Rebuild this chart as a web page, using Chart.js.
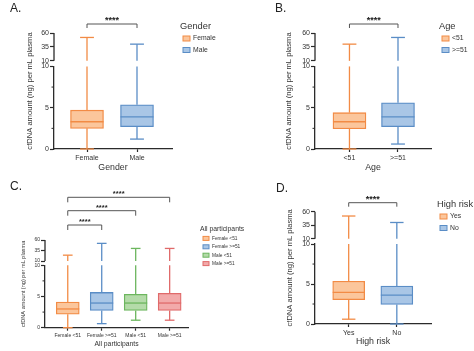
<!DOCTYPE html>
<html>
<head>
<meta charset="utf-8">
<script src="https://cdn.jsdelivr.net/npm/chart.js@4.4.0/dist/chart.umd.min.js"></script>
<style>
  html, body { margin: 0; padding: 0; background: #fff; }
  body { width: 474px; height: 351px; position: relative; overflow: hidden; }
  canvas { position: absolute; }
</style>
</head>
<body>
<canvas id="cA" style="left:0;top:0"></canvas>
<canvas id="cB" style="left:237px;top:0"></canvas>
<canvas id="cC" style="left:0;top:175px"></canvas>
<canvas id="cD" style="left:237px;top:175px"></canvas>
<script>
// --- values (cfDNA ng per mL plasma) ---
const genderLabels = ['Female', 'Male'];
const genderMin = [0, 1.2];
const genderQ1 = [2.5, 2.7];
const genderMedian = [3.3, 3.9];
const genderQ3 = [4.7, 5.35];
const genderMax = [52, 40];

const ageLabels = ['<51', '>=51'];
const ageMin = [0, 0.6];
const ageQ1 = [2.45, 2.7];
const ageMedian = [3.3, 3.9];
const ageQ3 = [4.4, 5.6];
const ageMax = [40, 52];

const groupLabels = ['Female <51', 'Female >=51', 'Male <51', 'Male >=51'];
const groupMin = [0, 0.65, 1.2, 1.2];
const groupQ1 = [2.15, 2.75, 2.75, 2.75];
const groupMedian = [3.0, 3.95, 3.95, 3.95];
const groupQ3 = [4.1, 5.65, 5.35, 5.5];
const groupMax = [24, 52, 40, 40];

const riskLabels = ['Yes', 'No'];
const riskMin = [0.6, 0];
const riskQ1 = [3.05, 2.45];
const riskMedian = [3.95, 3.6];
const riskQ3 = [5.35, 4.75];
const riskMax = [52, 40];

const yLowTicks = [0, 5, 10];
const yLowMinor = [2.5, 7.5];
const yHighTicks = [10, 35, 60];

// --- styling ---
const FONT = '"Liberation Sans", Arial, sans-serif';
const AXIS = '#2b2b2b';
const TEXT = '#333';
const ORANGE = '#F28B45', ORANGE_FILL = '#FBC69C';
const BLUE = '#5A8DC6', BLUE_FILL = '#A9C6E6';
const GREEN = '#6CB65E', GREEN_FILL = '#B4DBA9';
const RED = '#E06A6A', RED_FILL = '#F2AAAA';

const panels = [
  {
    id: 'cA', w: 237, h: 175, letter: 'A.', letterX: 10, letterY: 12,
    labels: genderLabels, min: genderMin, q1: genderQ1, med: genderMedian, q3: genderQ3, max: genderMax,
    colors: [ORANGE, BLUE], fills: [ORANGE_FILL, BLUE_FILL],
    area: { left: 54, right: 172, top: 33, bottom: 149 }, xPad: [0.66, 0.7],
    boxW: 33, tickFont: 7, xTickFont: 7,
    xTitle: 'Gender', xTitleY: 168, xTitleFont: 8.8, yTitleX: 30, yTitleFont: 7.6,
    legendTitle: 'Gender', legendX: 180, legendY: 26, legendTitleFont: 9.3, legendFont: 6.8, legendGap: 11.5, swW: 7, swH: 5,
    brackets: [{ from: 0, to: 1, y: 24 }], starFont: 9, bracketDrop: 4
  },
  {
    id: 'cB', w: 237, h: 175, letter: 'B.', letterX: 38, letterY: 12,
    labels: ageLabels, min: ageMin, q1: ageQ1, med: ageMedian, q3: ageQ3, max: ageMax,
    colors: [ORANGE, BLUE], fills: [ORANGE_FILL, BLUE_FILL],
    area: { left: 78, right: 194, top: 33, bottom: 149 }, xPad: [0.71, 0.68],
    boxW: 33, tickFont: 7, xTickFont: 7,
    xTitle: 'Age', xTitleY: 168, xTitleFont: 8.8, yTitleX: 52, yTitleFont: 7.6,
    legendTitle: 'Age', legendX: 202, legendY: 26, legendTitleFont: 9.3, legendFont: 6.8, legendGap: 11.5, swW: 7, swH: 5,
    brackets: [{ from: 0, to: 1, y: 24 }], starFont: 9, bracketDrop: 4
  },
  {
    id: 'cC', w: 262, h: 176, letter: 'C.', letterX: 10, letterY: 15,
    labels: groupLabels, min: groupMin, q1: groupQ1, med: groupMedian, q3: groupQ3, max: groupMax,
    colors: [ORANGE, BLUE, GREEN, RED], fills: [ORANGE_FILL, BLUE_FILL, GREEN_FILL, RED_FILL],
    area: { left: 45, right: 188, top: 65, bottom: 152.7 }, xPad: [0.67, 0.54],
    boxW: 23, tickFont: 5, xTickFont: 5,
    xTitle: 'All participants', xTitleY: 169, xTitleFont: 6.8, yTitleX: 23, yTitleFont: 5.6,
    legendTitle: 'All participants', legendX: 200, legendY: 54, legendTitleFont: 6.8, legendFont: 4.8, legendGap: 8.4, swW: 6, swH: 4,
    brackets: [{ from: 0, to: 3, y: 22.3 }, { from: 0, to: 2, y: 35.7 }, { from: 0, to: 1, y: 50 }], starFont: 7.5, bracketDrop: 5
  },
  {
    id: 'cD', w: 237, h: 176, letter: 'D.', letterX: 39, letterY: 17,
    labels: riskLabels, min: riskMin, q1: riskQ1, med: riskMedian, q3: riskQ3, max: riskMax,
    colors: [ORANGE, BLUE], fills: [ORANGE_FILL, BLUE_FILL],
    area: { left: 78, right: 194, top: 36.7, bottom: 149 }, xPad: [0.7, 0.71],
    boxW: 32, tickFont: 7, xTickFont: 7,
    xTitle: 'High risk', xTitleY: 166.7, xTitleFont: 8.8, yTitleX: 53, yTitleFont: 7.6,
    legendTitle: 'High risk', legendX: 200, legendY: 29, legendTitleFont: 9.3, legendFont: 6.8, legendGap: 11.5, swW: 7, swH: 5,
    brackets: [{ from: 0, to: 1, y: 27.7 }], starFont: 9, bracketDrop: 4
  }
];

const Y_AXIS_W = 24;
const X_AXIS_H = 18;

function seg(c, x1, y1, x2, y2) {
  c.beginPath();
  c.moveTo(x1, y1);
  c.lineTo(x2, y2);
  c.stroke();
}

// whiskers, medians, broken-axis top segment, titles, legend and brackets
function extras(p) {
  return {
    id: 'extras_' + p.id,
    afterDatasetsDraw(chart) {
      const c = chart.ctx;
      const xs = chart.scales.x, lo = chart.scales.yLow, hi = chart.scales.yHigh;
      const a = chart.chartArea;
      const lw = 1.3;
      c.save();

      // upper piece of the broken y axis
      c.strokeStyle = AXIS;
      c.lineWidth = 1.3;
      seg(c, a.left, hi.getPixelForValue(yHighTicks[0]), a.left, hi.getPixelForValue(yHighTicks[yHighTicks.length - 1]));
      // minor ticks on the lower piece
      c.lineWidth = 1;
      yLowMinor.forEach(v => {
        const y = lo.getPixelForValue(v);
        seg(c, a.left - 2.5, y, a.left, y);
      });

      const half = p.boxW / 2, cap = p.boxW * 0.21;
      c.lineWidth = lw;
      p.labels.forEach((_, i) => {
        const x = xs.getPixelForValue(i);
        c.strokeStyle = p.colors[i];
        // median
        seg(c, x - half, lo.getPixelForValue(p.med[i]), x + half, lo.getPixelForValue(p.med[i]));
        // lower whisker
        seg(c, x, lo.getPixelForValue(p.q1[i]), x, lo.getPixelForValue(p.min[i]));
        seg(c, x - cap, lo.getPixelForValue(p.min[i]), x + cap, lo.getPixelForValue(p.min[i]));
        // upper whisker, split over the break
        const topLow = Math.min(p.max[i], 10);
        seg(c, x, lo.getPixelForValue(p.q3[i]), x, lo.getPixelForValue(topLow));
        if (p.max[i] > 10) {
          seg(c, x, hi.getPixelForValue(10), x, hi.getPixelForValue(p.max[i]));
          seg(c, x - cap, hi.getPixelForValue(p.max[i]), x + cap, hi.getPixelForValue(p.max[i]));
        }
      });

      // significance brackets
      c.strokeStyle = '#555';
      c.lineWidth = 1;
      c.fillStyle = '#222';
      c.textAlign = 'center';
      c.textBaseline = 'alphabetic';
      c.font = 'bold ' + p.starFont + 'px ' + FONT;
      p.brackets.forEach(b => {
        const x1 = xs.getPixelForValue(b.from), x2 = xs.getPixelForValue(b.to);
        c.beginPath();
        c.moveTo(x1, b.y + p.bracketDrop);
        c.lineTo(x1, b.y);
        c.lineTo(x2, b.y);
        c.lineTo(x2, b.y + p.bracketDrop);
        c.stroke();
        c.fillText('****', (x1 + x2) / 2, b.y - 1);
      });

      // panel letter
      c.fillStyle = '#222';
      c.textAlign = 'left';
      c.font = '12px ' + FONT;
      c.fillText(p.letter, p.letterX, p.letterY);

      // axis titles
      c.fillStyle = TEXT;
      c.textAlign = 'center';
      c.textBaseline = 'middle';
      c.font = p.xTitleFont + 'px ' + FONT;
      c.fillText(p.xTitle, (a.left + a.right) / 2, p.xTitleY);
      c.save();
      c.translate(p.yTitleX, (hi.top + lo.bottom) / 2);
      c.rotate(-Math.PI / 2);
      c.font = p.yTitleFont + 'px ' + FONT;
      c.fillText('cfDNA amount (ng) per mL plasma', 0, 0);
      c.restore();

      // legend
      c.textAlign = 'left';
      c.font = p.legendTitleFont + 'px ' + FONT;
      c.fillText(p.legendTitle, p.legendX, p.legendY);
      c.font = p.legendFont + 'px ' + FONT;
      c.lineWidth = 1;
      p.labels.forEach((lab, i) => {
        const y = p.legendY + p.legendGap * (i + 1) + 1;
        const sx = p.legendX + 3;
        c.fillStyle = p.fills[i];
        c.fillRect(sx, y - p.swH / 2, p.swW, p.swH);
        c.strokeStyle = p.colors[i];
        c.strokeRect(sx, y - p.swH / 2, p.swW, p.swH);
        c.fillStyle = TEXT;
        c.fillText(lab, sx + p.swW + 3, y);
      });
      c.restore();
    }
  };
}

function makeChart(p) {
  const el = document.getElementById(p.id);
  el.width = p.w;
  el.height = p.h;
  el.style.width = p.w + 'px';
  el.style.height = p.h + 'px';
  const n = p.labels.length;
  const tickFontY = { family: FONT, size: p.tickFont };
  return new Chart(el, {
    type: 'bar',
    data: {
      datasets: [{
        xAxisID: 'x',
        yAxisID: 'yLow',
        data: p.q1.map((v, i) => ({ x: i, y: [v, p.q3[i]] })),
        backgroundColor: p.fills,
        borderColor: p.colors,
        borderWidth: 1.3,
        borderSkipped: false,
        barThickness: p.boxW
      }]
    },
    options: {
      responsive: false,
      animation: false,
      devicePixelRatio: 1,
      layout: {
        padding: {
          left: p.area.left - Y_AXIS_W,
          right: p.w - p.area.right,
          top: p.area.top,
          bottom: p.h - p.area.bottom - X_AXIS_H
        }
      },
      plugins: { legend: { display: false }, tooltip: { enabled: false } },
      scales: {
        x: {
          type: 'linear',
          position: 'bottom',
          offset: false,
          min: -p.xPad[0],
          max: n - 1 + p.xPad[1],
          afterBuildTicks: s => { s.ticks = p.labels.map((_, i) => ({ value: i })); },
          afterFit: s => { s.height = X_AXIS_H; },
          grid: { offset: false, drawOnChartArea: false, tickLength: 3, tickColor: AXIS, tickWidth: 1.2 },
          border: { color: AXIS, width: 1.3 },
          ticks: {
            autoSkip: false, maxRotation: 0, padding: 2, color: TEXT,
            font: { family: FONT, size: p.xTickFont },
            callback: v => p.labels[v]
          }
        },
        // first stacked axis is placed at the bottom
        yLow: {
          type: 'linear',
          position: 'left',
          stack: 'y',
          stackWeight: 2.47,
          min: 0,
          max: 10,
          afterBuildTicks: s => { s.ticks = yLowTicks.map(v => ({ value: v })); },
          afterFit: s => { s.width = Y_AXIS_W; },
          grid: { drawOnChartArea: false, tickLength: 4, tickColor: AXIS, tickWidth: 1.2 },
          border: { color: AXIS, width: 1.3 },
          ticks: { autoSkip: false, padding: 1, color: TEXT, font: tickFontY }
        },
        yHigh: {
          type: 'linear',
          position: 'left',
          stack: 'y',
          stackWeight: 1,
          min: 0,
          max: 60,
          afterBuildTicks: s => { s.ticks = yHighTicks.map(v => ({ value: v })); },
          afterFit: s => { s.width = Y_AXIS_W; },
          grid: { drawOnChartArea: false, tickLength: 4, tickColor: AXIS, tickWidth: 1.2 },
          border: { display: false },
          ticks: { autoSkip: false, padding: 1, color: TEXT, font: tickFontY }
        }
      }
    },
    plugins: [extras(p)]
  });
}

panels.forEach(makeChart);
</script>
</body>
</html>
